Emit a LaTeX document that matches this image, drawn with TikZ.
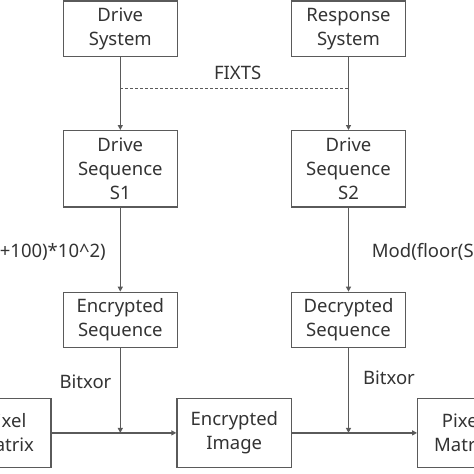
\documentclass[tikz,border=0pt]{standalone}
\usepackage{fontspec}
\setmainfont{Noto Sans}
\usetikzlibrary{arrows.meta}
\definecolor{txt}{HTML}{333333}
\definecolor{ln}{HTML}{5A5A5A}
\begin{document}
\begin{tikzpicture}[x=1pt,y=1pt,
  box/.style={draw=ln, line width=1.3pt, align=center, inner sep=0pt, text=txt,
    font=\fontsize{18.5}{24}\selectfont},
  lbl/.style={inner sep=0pt, text=txt, font=\fontsize{18.5}{24}\selectfont},
  arr/.style={draw=ln, line width=1.3pt, -{Triangle[width=5pt,length=5pt]}},
  dashline/.style={draw=ln, line width=1pt, dash pattern=on 3pt off 2pt}]
\useasboundingbox (0,-474) rectangle (474,0);
\clip (0,-474) rectangle (474,0);
\fill[white] (0,-474) rectangle (474,0);
% top row
\node[box, minimum width=114pt, minimum height=55.7pt] (ds) at (120.3,-28.8) {Drive\\System};
\node[box, minimum width=114pt, minimum height=55.7pt] (rs) at (348.5,-28.8) {Response\\System};
% second row
\node[box, minimum width=114pt, minimum height=76.3pt] (s1) at (120.3,-168.8) {Drive\\Sequence\\S1};
\node[box, minimum width=114pt, minimum height=76.3pt] (s2) at (348.5,-168.8) {Drive\\Sequence\\S2};
% third row
\node[box, minimum width=114pt, minimum height=55pt] (es) at (120.3,-319.8) {Encrypted\\Sequence};
\node[box, minimum width=114pt, minimum height=55pt] (dq) at (348.5,-319.8) {Decrypted\\Sequence};
% bottom row
\node[box, minimum width=90pt, minimum height=69.2pt] (pml) at (6,-432.9) {Pixel\\Matrix};
\node[box, minimum width=114.7pt, minimum height=69.2pt] (ei) at (234.3,-432.9) {Encrypted\\Image};
\node[box, minimum width=89pt, minimum height=69.2pt] (pmr) at (462.2,-432.9) {Pixel\\Matrix};
% connectors
\draw[arr] (ds) -- (s1);
\draw[arr] (rs) -- (s2);
\coordinate (fl) at (ds.south |- 0,-88.3);
\coordinate (fr) at (rs.south |- 0,-88.3);
\draw[dashline] (fl) -- (fr);
\node[lbl] (fixts) at (237.7,-73) {FIXTS};
\draw[arr] (s1) -- (es);
\draw[arr] (s2) -- (dq);
\node[lbl, anchor=east] (f1) at (106,-251.7) {+100)*10\textasciicircum 2)};
\node[lbl, anchor=west] (f2) at (371.7,-251.7) {Mod(floor(S};
\coordinate (j1) at (es.south |- pml.east);
\coordinate (j2) at (dq.south |- pml.east);
\draw[arr] (es) -- (j1);
\draw[arr] (dq) -- (j2);
\draw[arr] (pml) -- (ei);
\draw[arr] (ei) -- (pmr);
\node[lbl] (b1) at (85.5,-381.7) {Bitxor};
\node[lbl] (b2) at (389,-377.7) {Bitxor};
\end{tikzpicture}
\end{document}
